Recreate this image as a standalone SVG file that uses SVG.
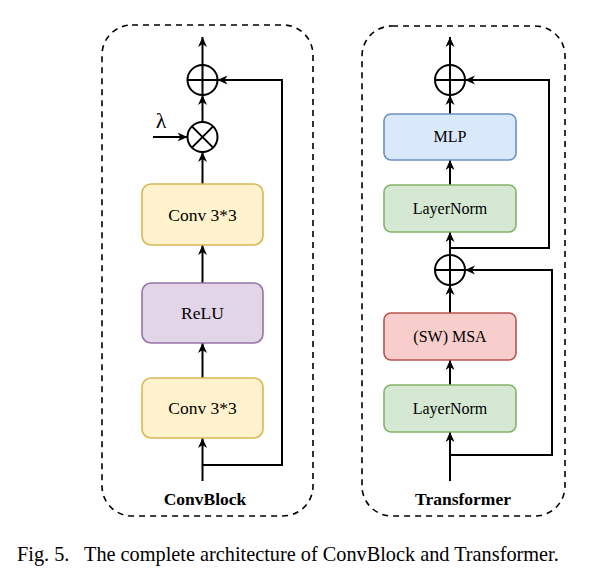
<svg xmlns="http://www.w3.org/2000/svg" width="596" height="572" viewBox="0 0 596 572">
  <style>
    .container { fill: none; stroke: #000; stroke-width: 1.6; stroke-dasharray: 6 5; }
    .box { stroke-width: 1.6; }
    .yellow { fill: #fff2cc; stroke: #d6b656; }
    .purple { fill: #e1d5e7; stroke: #9673a6; }
    .blue { fill: #dae8fc; stroke: #6c8ebf; }
    .green { fill: #d5e8d4; stroke: #82b366; }
    .red { fill: #f8cecc; stroke: #b85450; }
    .op { fill: #fff; stroke: #000; stroke-width: 2; }
    .opline { stroke: #000; stroke-width: 2; fill: none; }
    .edge { stroke: #000; stroke-width: 2; fill: none; }
    .arrow { marker-end: url(#ah); }
    .lbl { font-family: "Liberation Serif", "Times New Roman", serif; fill: #000; text-anchor: middle; }
    .big { font-size: 17.5px; }
    .small { font-size: 16px; }
    .title { font-size: 17.5px; font-weight: bold; }
    .caption { font-family: "Liberation Serif", "Times New Roman", serif; font-size: 20.3px; fill: #000; }
  </style>
  <defs>
    <marker id="ah" markerUnits="userSpaceOnUse" viewBox="0 0 10 10" refX="10" refY="5" markerWidth="10" markerHeight="10" orient="auto">
      <path d="M0,0.5 L10,5 L0,9.5 L3,5 Z" fill="#000"/>
    </marker>
  </defs>

  <!-- containers -->
  <g id="convblock-container">
    <rect class="container" x="102" y="25" width="211" height="491" rx="30" ry="30"/>
    <text class="lbl title" x="205" y="505">ConvBlock</text>
  </g>
  <g id="transformer-container">
    <rect class="container" x="362" y="26" width="203" height="490" rx="30" ry="30"/>
    <text class="lbl title" x="463" y="505">Transformer</text>
  </g>

  <!-- connectors -->
  <g id="connectors">
    <!-- ConvBlock -->
    <path class="edge arrow" d="M202.5,65 V37"/>
    <path class="edge arrow" d="M202.5,122 V95"/>
    <path class="edge arrow" d="M202.5,184 V152"/>
    <path class="edge arrow" d="M202.5,283 V245"/>
    <path class="edge arrow" d="M202.5,378 V343"/>
    <path class="edge arrow" d="M202.5,481 V438"/>
    <path class="edge arrow" d="M202.5,465 H282 V80 H217.5"/>
    <path class="edge arrow" d="M153,137 H187.5"/>
    <!-- Transformer -->
    <path class="edge arrow" d="M450,65 V37"/>
    <path class="edge arrow" d="M450,114 V95"/>
    <path class="edge arrow" d="M450,185 V160"/>
    <path class="edge arrow" d="M450,255 V232"/>
    <path class="edge arrow" d="M450,248 H549 V80 H465"/>
    <path class="edge arrow" d="M450,313 V285"/>
    <path class="edge arrow" d="M450,385 V360"/>
    <path class="edge arrow" d="M450,481 V432"/>
    <path class="edge arrow" d="M450,455 H552 V270 H465"/>
  </g>

  <!-- ConvBlock nodes -->
  <g id="cb-add">
    <circle class="op" cx="202.5" cy="80" r="15"/>
    <path class="opline" d="M187.5,80 H217.5 M202.5,65 V95"/>
  </g>
  <g id="cb-mul">
    <circle class="op" cx="202.5" cy="137" r="15"/>
    <path class="opline" d="M191.9,126.4 L213.1,147.6 M213.1,126.4 L191.9,147.6"/>
  </g>
  <g id="cb-lambda">
    <text class="lbl" x="161" y="128" style="font-size:22px">λ</text>
  </g>
  <g id="cb-conv1">
    <rect class="box yellow" x="142" y="184" width="121" height="61" rx="9" ry="9"/>
    <text class="lbl big" x="202.5" y="220.5">Conv 3*3</text>
  </g>
  <g id="cb-relu">
    <rect class="box purple" x="142" y="283" width="121" height="60" rx="9" ry="9"/>
    <text class="lbl big" x="202.5" y="319">ReLU</text>
  </g>
  <g id="cb-conv2">
    <rect class="box yellow" x="142" y="378" width="121" height="60" rx="9" ry="9"/>
    <text class="lbl big" x="202.5" y="414">Conv 3*3</text>
  </g>

  <!-- Transformer nodes -->
  <g id="tf-add2">
    <circle class="op" cx="450" cy="80" r="15"/>
    <path class="opline" d="M435,80 H465 M450,65 V95"/>
  </g>
  <g id="tf-mlp">
    <rect class="box blue" x="384" y="114" width="132" height="46" rx="7" ry="7"/>
    <text class="lbl small" x="450" y="142.3">MLP</text>
  </g>
  <g id="tf-ln2">
    <rect class="box green" x="384" y="185" width="132" height="47" rx="7" ry="7"/>
    <text class="lbl small" x="450" y="214">LayerNorm</text>
  </g>
  <g id="tf-add1">
    <circle class="op" cx="450" cy="270" r="15"/>
    <path class="opline" d="M435,270 H465 M450,255 V285"/>
  </g>
  <g id="tf-msa">
    <rect class="box red" x="384" y="313" width="132" height="47" rx="7" ry="7"/>
    <text class="lbl small" x="450" y="342">(SW) MSA</text>
  </g>
  <g id="tf-ln1">
    <rect class="box green" x="384" y="385" width="132" height="47" rx="7" ry="7"/>
    <text class="lbl small" x="450" y="414">LayerNorm</text>
  </g>

  <!-- caption -->
  <g id="caption">
    <text class="caption" x="17" y="560.5">Fig. 5.</text>
    <text class="caption" x="84" y="560.5">The complete architecture of ConvBlock and Transformer.</text>
  </g>
</svg>
